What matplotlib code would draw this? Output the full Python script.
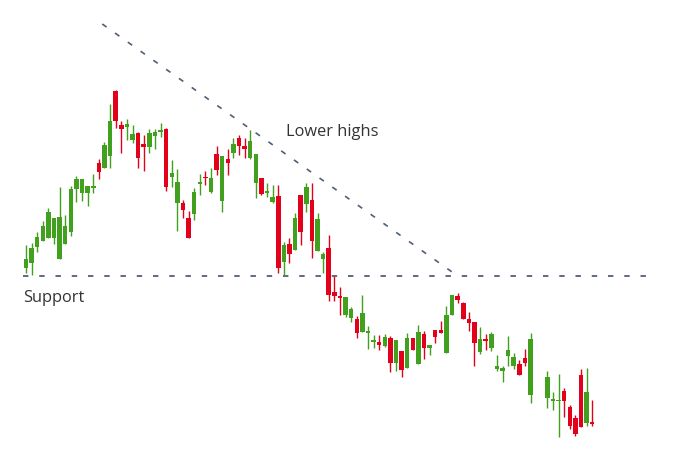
import numpy as np
import matplotlib
matplotlib.use('Agg')
import matplotlib.pyplot as plt

# Daily candles (arbitrary price units)
day = list(range(0, 91)) + list(range(93, 102))
opens = [232, 237, 253, 259, 262, 262, 241, 256, 268, 311, 307, 307, 312, 337, 332, 344, 409, 375, 373, 360,
         367, 356, 353, 364, 368, 371, 323, 297, 297, 282, 286, 316, 323, 308, 346, 299, 341, 347, 362, 354,
         342, 317, 322, 307, 298, 304, 238, 256, 250, 305, 296, 300, 249, 241, 252, 208, 204, 185, 182, 181,
         168, 167, 158, 158, 154, 162, 137, 149, 132, 162, 136, 166, 152, 170, 170, 147, 185, 204, 197, 181,
         178, 148, 161, 152, 131, 129, 144, 134, 136, 142, 105,
         102, 99, 99, 109, 93, 82, 125, 77, 78]
highs = [255, 257, 268, 279, 292, 282, 313, 285, 314, 324, 321, 314, 326, 341, 358, 396, 410, 379, 381, 375,
         368, 365, 371, 371, 377, 372, 340, 331, 300, 289, 312, 326, 329, 332, 354, 344, 351, 362, 365, 362,
         370, 346, 322, 317, 315, 315, 258, 262, 287, 305, 317, 317, 287, 248, 265, 224, 213, 203, 193, 184,
         205, 174, 165, 165, 166, 164, 160, 149, 167, 162, 175, 169, 155, 170, 179, 194, 205, 207, 198, 188,
         178, 173, 166, 168, 145, 134, 164, 147, 140, 151, 167,
         129, 108, 126, 112, 95, 85, 131, 132, 100]
lows = [227, 225, 248, 259, 262, 256, 241, 256, 264, 298, 299, 294, 307, 321, 332, 332, 372, 347, 360, 357,
        332, 329, 347, 351, 363, 309, 313, 269, 282, 262, 280, 305, 315, 307, 325, 288, 325, 342, 345, 342,
        341, 302, 305, 303, 297, 227, 225, 237, 250, 255, 288, 242, 249, 227, 199, 199, 185, 183, 178, 162,
        168, 151, 152, 150, 153, 128, 129, 123, 132, 150, 136, 141, 145, 157, 167, 147, 185, 197, 181, 169,
        134, 146, 150, 149, 129, 118, 134, 131, 125, 134, 97,
        92, 90, 63, 83, 71, 64, 73, 74, 74]
closes = [241, 252, 263, 274, 288, 282, 283, 274, 311, 321, 321, 314, 314, 328, 355, 379, 379, 371, 376, 366,
          342, 353, 367, 368, 370, 313, 327, 318, 290, 262, 308, 318, 322, 322, 330, 344, 337, 356, 354, 351,
          359, 346, 306, 309, 303, 232, 255, 246, 282, 268, 313, 259, 281, 246, 205, 204, 202, 203, 191, 167,
          187, 169, 160, 155, 163, 137, 160, 130, 162, 150, 168, 152, 155, 163, 167, 185, 205, 200, 181, 177,
          157, 161, 159, 166, 134, 132, 150, 143, 125, 137, 161,
          123, 101, 100, 99, 74, 66, 73, 108, 76]

# Annotation levels
trend_start = (13.6, 476)
trend_end = (76.0, 228)
support_level = 224.5
support_span = (-0.6, 111.7)

green = '#41a11e'
red = '#e2001a'
line_col = '#4f6075'
text_col = '#333333'

fig = plt.figure(figsize=(6.8, 4.67), dpi=100)
ax = fig.add_axes([0, 0, 1, 1])
ax.set_xlim(-4.638, 116.66)
ax.set_ylim(33, 500)
ax.axis('off')

o = np.array(opens, dtype=float)
c = np.array(closes, dtype=float)
h = np.array(highs, dtype=float)
l = np.array(lows, dtype=float)
x = np.array(day, dtype=float)
cols = np.where(c >= o, green, red)

ax.vlines(x, l, h, colors=cols, linewidth=1.0, zorder=2)
body = np.maximum(np.abs(c - o), 1.5)
ax.bar(x, body, bottom=np.minimum(o, c), width=0.8, color=cols, linewidth=0, zorder=3)

ax.plot([trend_start[0], trend_end[0]], [trend_start[1], trend_end[1]], color=line_col,
        lw=1.2, linestyle=(0, (3.2, 6.2)), zorder=1)
ax.plot(support_span, [support_level, support_level], color=line_col,
        lw=1.3, linestyle=(0, (3.0, 6.0)), zorder=1)

ax.text(46.3, 364, 'Lower highs', fontsize=11.8, family='Open Sans', color=text_col, va='baseline')
ax.text(-0.6, 198, 'Support', fontsize=11.8, family='Open Sans', color=text_col, va='baseline')

fig.savefig('out.png', dpi=100)
